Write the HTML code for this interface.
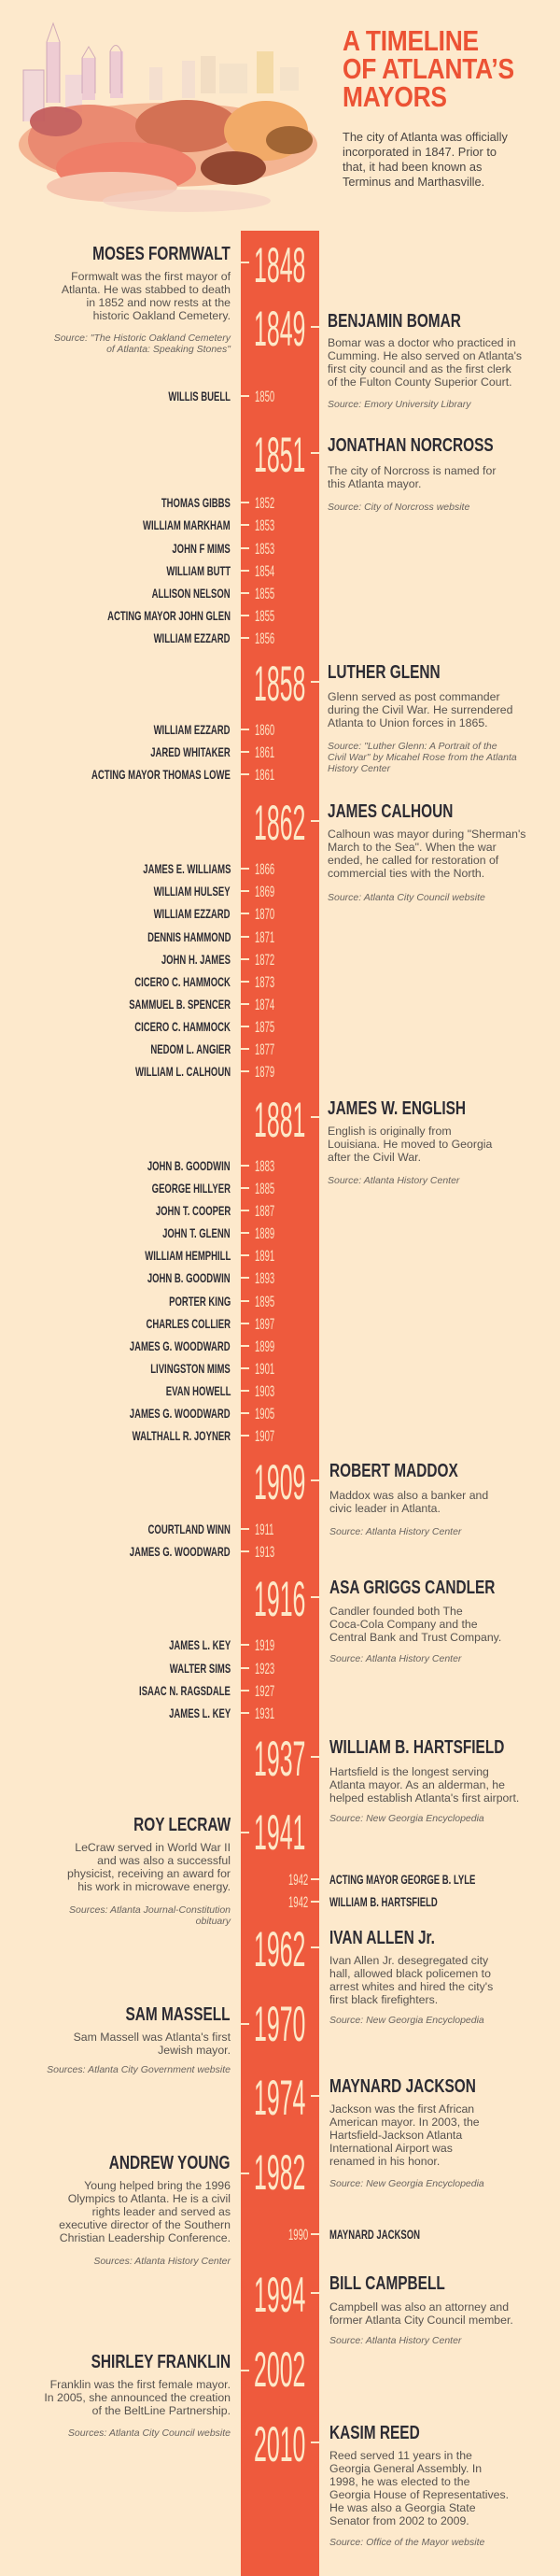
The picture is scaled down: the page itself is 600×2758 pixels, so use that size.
<!DOCTYPE html>
<html><head><meta charset="utf-8">
<style>
*{margin:0;padding:0}
html,body{width:600px;height:2758px;overflow:hidden;background:#fde9cc}
body{position:relative;font-family:"Liberation Sans",sans-serif}
.a{position:absolute;white-space:nowrap}
.bar{position:absolute;left:258px;top:247px;width:84px;height:2511px;background:#ee5a3d}
.Y{position:absolute;left:272px;font-size:53px;line-height:53px;color:#fde8c8;transform:scaleX(.47);transform-origin:left top;white-space:nowrap}
.y{position:absolute;left:273px;font-size:17px;line-height:17px;color:#fde3c4;transform:scaleX(.56);transform-origin:left top}
.yr{left:309px}
.d{position:absolute;width:9px;height:2px;background:#fde8c8}
.dl{left:258px}.dr{left:333px}
.N{position:absolute;font-weight:bold;font-size:20px;line-height:20px;color:#2c2b33;white-space:nowrap}
.n{position:absolute;font-weight:bold;font-size:14px;line-height:14px;color:#2c2b33;white-space:nowrap}
.L{right:353px;text-align:right;transform-origin:right top}
.R{left:351px;transform-origin:left top}
.N.L,.N.R{transform:scaleX(.77)}
.n.L,.n.R{transform:scaleX(.68)}
.t{position:absolute;font-size:12.3px;line-height:14px;color:#57524e;white-space:nowrap}
.s{position:absolute;font-style:italic;font-size:10.5px;line-height:12px;color:#6a645f;white-space:nowrap}
.tl{right:353px;text-align:right}.tr{left:351px}
.title{position:absolute;left:367px;top:29px;font-weight:bold;font-size:31px;line-height:30px;color:#ec5234;transform:scaleX(.85);transform-origin:left top;white-space:nowrap;letter-spacing:-0.3px}
.intro{position:absolute;left:367px;top:139px;font-size:12.8px;line-height:16px;color:#4a4542;white-space:nowrap}
</style></head><body>

<svg class="a" style="left:0;top:0" width="360" height="260" viewBox="0 0 360 260">
<g fill="#e9c3d6" opacity=".75">
<rect x="50" y="45" width="14" height="65"/><rect x="88" y="62" width="14" height="45"/><rect x="118" y="55" width="14" height="50"/>
<rect x="25" y="75" width="22" height="55" fill="#efd3dd"/><rect x="70" y="80" width="18" height="40" fill="#efd3dd"/>
<rect x="160" y="72" width="14" height="35" fill="#f1dcd0"/><rect x="195" y="65" width="14" height="40" fill="#f1dcd0"/>
<rect x="215" y="60" width="16" height="40" fill="#efd9c0"/><rect x="235" y="68" width="30" height="32" fill="#f2e0c8"/>
<rect x="275" y="55" width="18" height="45" fill="#f1d59a"/><rect x="300" y="72" width="20" height="25" fill="#f2e0c8"/>
</g>
<g fill="none" stroke="#c79bb3" stroke-width="1" opacity=".8">
<path d="M50 110 V45 L57 25 L64 45 V110"/><path d="M88 100 V62 L95 50 L102 62 V100"/>
<path d="M118 100 V55 Q124 42 130 55 V100"/><path d="M25 130 V75 h22 V130"/>
</g>
<g opacity=".92">
<ellipse cx="180" cy="155" rx="160" ry="45" fill="#f4b08e"/>
<ellipse cx="95" cy="150" rx="65" ry="38" fill="#e9826a"/>
<ellipse cx="200" cy="135" rx="55" ry="28" fill="#d0674a"/>
<ellipse cx="285" cy="140" rx="45" ry="32" fill="#f2a560"/>
<ellipse cx="135" cy="180" rx="75" ry="28" fill="#ee7560"/>
<ellipse cx="250" cy="180" rx="35" ry="18" fill="#8a3a24"/>
<ellipse cx="60" cy="130" rx="28" ry="16" fill="#c25a5a"/>
<ellipse cx="310" cy="150" rx="25" ry="15" fill="#9a5a28"/>
<ellipse cx="120" cy="200" rx="70" ry="16" fill="#f6c2ac"/>
<ellipse cx="200" cy="215" rx="90" ry="12" fill="#f3cfc3" opacity=".7"/>
</g>
</svg>

<div class="title">A TIMELINE<br>OF ATLANTA’S<br>MAYORS</div>
<div class="intro">The city of Atlanta was officially<br>incorporated in 1847. Prior to<br>that, it had been known as<br>Terminus and Marthasville.</div>

<div class="bar"></div>

<div class="N L" style="top:262px">MOSES FORMWALT</div>
<div class="Y" style="top:258px">1848</div><div class="d dl" style="top:280px"></div>
<div class="t tl" style="top:289px">Formwalt was the first mayor of<br>Atlanta. He was stabbed to death<br>in 1852 and now rests at the<br>historic Oakland Cemetery.</div>
<div class="s tl" style="top:356px">Source: "The Historic Oakland Cemetery<br>of Atlanta: Speaking Stones"</div>

<div class="Y" style="top:326px">1849</div><div class="d dr" style="top:349px"></div>
<div class="N R" style="top:334px">BENJAMIN BOMAR</div>
<div class="t tr" style="top:360px">Bomar was a doctor who practiced in<br>Cumming. He also served on Atlanta's<br>first city council and as the first clerk<br>of the Fulton County Superior Court.</div>
<div class="s tr" style="top:427px">Source: Emory University Library</div>

<div class="n L" style="top:417px">WILLIS BUELL</div><div class="d dl" style="top:423px"></div><div class="y" style="top:416px">1850</div>

<div class="Y" style="top:461px">1851</div><div class="d dr" style="top:484px"></div>
<div class="N R" style="top:467px">JONATHAN NORCROSS</div>
<div class="t tr" style="top:497px">The city of Norcross is named for<br>this Atlanta mayor.</div>
<div class="s tr" style="top:537px">Source: City of Norcross website</div>

<div class="n L" style="top:531px">THOMAS GIBBS</div><div class="d dl" style="top:537px"></div><div class="y" style="top:530px">1852</div>
<div class="n L" style="top:555px">WILLIAM MARKHAM</div><div class="d dl" style="top:561px"></div><div class="y" style="top:554px">1853</div>
<div class="n L" style="top:580px">JOHN F MIMS</div><div class="d dl" style="top:586px"></div><div class="y" style="top:579px">1853</div>
<div class="n L" style="top:604px">WILLIAM BUTT</div><div class="d dl" style="top:610px"></div><div class="y" style="top:603px">1854</div>
<div class="n L" style="top:628px">ALLISON NELSON</div><div class="d dl" style="top:634px"></div><div class="y" style="top:627px">1855</div>
<div class="n L" style="top:652px">ACTING MAYOR JOHN GLEN</div><div class="d dl" style="top:658px"></div><div class="y" style="top:651px">1855</div>
<div class="n L" style="top:676px">WILLIAM EZZARD</div><div class="d dl" style="top:682px"></div><div class="y" style="top:675px">1856</div>

<div class="Y" style="top:706px">1858</div><div class="d dr" style="top:729px"></div>
<div class="N R" style="top:710px">LUTHER GLENN</div>
<div class="t tr" style="top:739px">Glenn served as post commander<br>during the Civil War. He surrendered<br>Atlanta to Union forces in 1865.</div>
<div class="s tr" style="top:793px">Source: "Luther Glenn: A Portrait of the<br>Civil War" by Micahel Rose from the Atlanta<br>History Center</div>

<div class="n L" style="top:774px">WILLIAM EZZARD</div><div class="d dl" style="top:780px"></div><div class="y" style="top:773px">1860</div>
<div class="n L" style="top:798px">JARED WHITAKER</div><div class="d dl" style="top:804px"></div><div class="y" style="top:797px">1861</div>
<div class="n L" style="top:822px">ACTING MAYOR THOMAS LOWE</div><div class="d dl" style="top:828px"></div><div class="y" style="top:821px">1861</div>

<div class="Y" style="top:855px">1862</div><div class="d dr" style="top:878px"></div>
<div class="N R" style="top:859px">JAMES CALHOUN</div>
<div class="t tr" style="top:886px">Calhoun was mayor during "Sherman's<br>March to the Sea". When the war<br>ended, he called for restoration of<br>commercial ties with the North.</div>
<div class="s tr" style="top:955px">Source: Atlanta City Council website</div>

<div class="n L" style="top:923px">JAMES E. WILLIAMS</div><div class="d dl" style="top:929px"></div><div class="y" style="top:922px">1866</div>
<div class="n L" style="top:947px">WILLIAM HULSEY</div><div class="d dl" style="top:953px"></div><div class="y" style="top:946px">1869</div>
<div class="n L" style="top:971px">WILLIAM EZZARD</div><div class="d dl" style="top:977px"></div><div class="y" style="top:970px">1870</div>
<div class="n L" style="top:996px">DENNIS HAMMOND</div><div class="d dl" style="top:1002px"></div><div class="y" style="top:995px">1871</div>
<div class="n L" style="top:1020px">JOHN H. JAMES</div><div class="d dl" style="top:1026px"></div><div class="y" style="top:1019px">1872</div>
<div class="n L" style="top:1044px">CICERO C. HAMMOCK</div><div class="d dl" style="top:1050px"></div><div class="y" style="top:1043px">1873</div>
<div class="n L" style="top:1068px">SAMMUEL B. SPENCER</div><div class="d dl" style="top:1074px"></div><div class="y" style="top:1067px">1874</div>
<div class="n L" style="top:1092px">CICERO C. HAMMOCK</div><div class="d dl" style="top:1098px"></div><div class="y" style="top:1091px">1875</div>
<div class="n L" style="top:1116px">NEDOM L. ANGIER</div><div class="d dl" style="top:1122px"></div><div class="y" style="top:1115px">1877</div>
<div class="n L" style="top:1140px">WILLIAM L. CALHOUN</div><div class="d dl" style="top:1146px"></div><div class="y" style="top:1139px">1879</div>

<div class="Y" style="top:1173px">1881</div><div class="d dr" style="top:1195px"></div>
<div class="N R" style="top:1177px">JAMES W. ENGLISH</div>
<div class="t tr" style="top:1204px">English is originally from<br>Louisiana. He moved to Georgia<br>after the Civil War.</div>
<div class="s tr" style="top:1258px">Source: Atlanta History Center</div>

<div class="n L" style="top:1241px">JOHN B. GOODWIN</div><div class="d dl" style="top:1247px"></div><div class="y" style="top:1240px">1883</div>
<div class="n L" style="top:1265px">GEORGE HILLYER</div><div class="d dl" style="top:1271px"></div><div class="y" style="top:1264px">1885</div>
<div class="n L" style="top:1289px">JOHN T. COOPER</div><div class="d dl" style="top:1295px"></div><div class="y" style="top:1288px">1887</div>
<div class="n L" style="top:1313px">JOHN T. GLENN</div><div class="d dl" style="top:1319px"></div><div class="y" style="top:1312px">1889</div>
<div class="n L" style="top:1337px">WILLIAM HEMPHILL</div><div class="d dl" style="top:1343px"></div><div class="y" style="top:1336px">1891</div>
<div class="n L" style="top:1361px">JOHN B. GOODWIN</div><div class="d dl" style="top:1367px"></div><div class="y" style="top:1360px">1893</div>
<div class="n L" style="top:1386px">PORTER KING</div><div class="d dl" style="top:1392px"></div><div class="y" style="top:1385px">1895</div>
<div class="n L" style="top:1410px">CHARLES COLLIER</div><div class="d dl" style="top:1416px"></div><div class="y" style="top:1409px">1897</div>
<div class="n L" style="top:1434px">JAMES G. WOODWARD</div><div class="d dl" style="top:1440px"></div><div class="y" style="top:1433px">1899</div>
<div class="n L" style="top:1458px">LIVINGSTON MIMS</div><div class="d dl" style="top:1464px"></div><div class="y" style="top:1457px">1901</div>
<div class="n L" style="top:1482px">EVAN HOWELL</div><div class="d dl" style="top:1488px"></div><div class="y" style="top:1481px">1903</div>
<div class="n L" style="top:1506px">JAMES G. WOODWARD</div><div class="d dl" style="top:1512px"></div><div class="y" style="top:1505px">1905</div>
<div class="n L" style="top:1530px">WALTHALL R. JOYNER</div><div class="d dl" style="top:1536px"></div><div class="y" style="top:1529px">1907</div>

<div class="Y" style="top:1561px">1909</div><div class="d dr" style="top:1584px"></div>
<div class="N R" style="top:1565px;left:353px">ROBERT MADDOX</div>
<div class="t tr" style="top:1594px;left:353px">Maddox was also a banker and<br>civic leader in Atlanta.</div>
<div class="s tr" style="top:1634px;left:353px">Source: Atlanta History Center</div>

<div class="n L" style="top:1630px">COURTLAND WINN</div><div class="d dl" style="top:1636px"></div><div class="y" style="top:1629px">1911</div>
<div class="n L" style="top:1654px">JAMES G. WOODWARD</div><div class="d dl" style="top:1660px"></div><div class="y" style="top:1653px">1913</div>

<div class="Y" style="top:1686px">1916</div><div class="d dr" style="top:1709px"></div>
<div class="N R" style="top:1690px;left:353px">ASA GRIGGS CANDLER</div>
<div class="t tr" style="top:1718px;left:353px">Candler founded both The<br>Coca-Cola Company and the<br>Central Bank and Trust Company.</div>
<div class="s tr" style="top:1770px;left:353px">Source: Atlanta History Center</div>

<div class="n L" style="top:1754px">JAMES L. KEY</div><div class="d dl" style="top:1760px"></div><div class="y" style="top:1753px">1919</div>
<div class="n L" style="top:1779px">WALTER SIMS</div><div class="d dl" style="top:1785px"></div><div class="y" style="top:1778px">1923</div>
<div class="n L" style="top:1803px">ISAAC N. RAGSDALE</div><div class="d dl" style="top:1809px"></div><div class="y" style="top:1802px">1927</div>
<div class="n L" style="top:1827px">JAMES L. KEY</div><div class="d dl" style="top:1833px"></div><div class="y" style="top:1826px">1931</div>

<div class="Y" style="top:1857px">1937</div><div class="d dr" style="top:1880px"></div>
<div class="N R" style="top:1861px;left:353px">WILLIAM B. HARTSFIELD</div>
<div class="t tr" style="top:1890px;left:353px">Hartsfield is the longest serving<br>Atlanta mayor. As an alderman, he<br>helped establish Atlanta's first airport.</div>
<div class="s tr" style="top:1941px;left:353px">Source: New Georgia Encyclopedia</div>

<div class="N L" style="top:1944px">ROY LECRAW</div>
<div class="Y" style="top:1936px">1941</div><div class="d dl" style="top:1961px"></div>
<div class="t tl" style="top:1971px">LeCraw served in World War II<br>and was also a successful<br>physicist, receiving an award for<br>his work in microwave energy.</div>
<div class="s tl" style="top:2039px">Sources: Atlanta Journal-Constitution<br>obituary</div>

<div class="y yr" style="top:2004px">1942</div><div class="d dr" style="top:2011px"></div><div class="n R" style="top:2005px;left:353px">ACTING MAYOR GEORGE B. LYLE</div>
<div class="y yr" style="top:2028px">1942</div><div class="d dr" style="top:2035px"></div><div class="n R" style="top:2029px;left:353px">WILLIAM B. HARTSFIELD</div>

<div class="Y" style="top:2061px">1962</div><div class="d dr" style="top:2084px"></div>
<div class="N R" style="top:2065px;left:353px">IVAN ALLEN Jr.</div>
<div class="t tr" style="top:2092px;left:353px">Ivan Allen Jr. desegregated city<br>hall, allowed black policemen to<br>arrest whites and hired the city's<br>first black firefighters.</div>
<div class="s tr" style="top:2157px;left:353px">Source: New Georgia Encyclopedia</div>

<div class="N L" style="top:2147px">SAM MASSELL</div>
<div class="Y" style="top:2141px">1970</div><div class="d dl" style="top:2166px"></div>
<div class="t tl" style="top:2174px">Sam Massell was Atlanta's first<br>Jewish mayor.</div>
<div class="s tl" style="top:2210px">Sources: Atlanta City Government website</div>

<div class="Y" style="top:2220px">1974</div><div class="d dr" style="top:2243px"></div>
<div class="N R" style="top:2224px;left:353px">MAYNARD JACKSON</div>
<div class="t tr" style="top:2251px;left:353px">Jackson was the first African<br>American mayor. In 2003, the<br>Hartsfield-Jackson Atlanta<br>International Airport was<br>renamed in his honor.</div>
<div class="s tr" style="top:2332px;left:353px">Source: New Georgia Encyclopedia</div>

<div class="N L" style="top:2306px">ANDREW YOUNG</div>
<div class="Y" style="top:2300px">1982</div><div class="d dl" style="top:2326px"></div>
<div class="t tl" style="top:2333px">Young helped bring the 1996<br>Olympics to Atlanta. He is a civil<br>rights leader and served as<br>executive director of the Southern<br>Christian Leadership Conference.</div>
<div class="s tl" style="top:2415px">Sources: Atlanta History Center</div>

<div class="y yr" style="top:2384px">1990</div><div class="d dr" style="top:2391px"></div><div class="n R" style="top:2385px;left:353px">MAYNARD JACKSON</div>

<div class="Y" style="top:2431px">1994</div><div class="d dr" style="top:2454px"></div>
<div class="N R" style="top:2435px;left:353px">BILL CAMPBELL</div>
<div class="t tr" style="top:2463px;left:353px">Campbell was also an attorney and<br>former Atlanta City Council member.</div>
<div class="s tr" style="top:2500px;left:353px">Source: Atlanta History Center</div>

<div class="N L" style="top:2519px">SHIRLEY FRANKLIN</div>
<div class="Y" style="top:2511px">2002</div><div class="d dl" style="top:2537px"></div>
<div class="t tl" style="top:2546px">Franklin was the first female mayor.<br>In 2005, she announced the creation<br>of the BeltLine Partnership.</div>
<div class="s tl" style="top:2599px">Sources: Atlanta City Council website</div>

<div class="Y" style="top:2591px">2010</div><div class="d dr" style="top:2614px"></div>
<div class="N R" style="top:2595px;left:353px">KASIM REED</div>
<div class="t tr" style="top:2622px;left:353px">Reed served 11 years in the<br>Georgia General Assembly. In<br>1998, he was elected to the<br>Georgia House of Representatives.<br>He was also a Georgia State<br>Senator from 2002 to 2009.</div>
<div class="s tr" style="top:2716px;left:353px">Source: Office of the Mayor website</div>

</body></html>
